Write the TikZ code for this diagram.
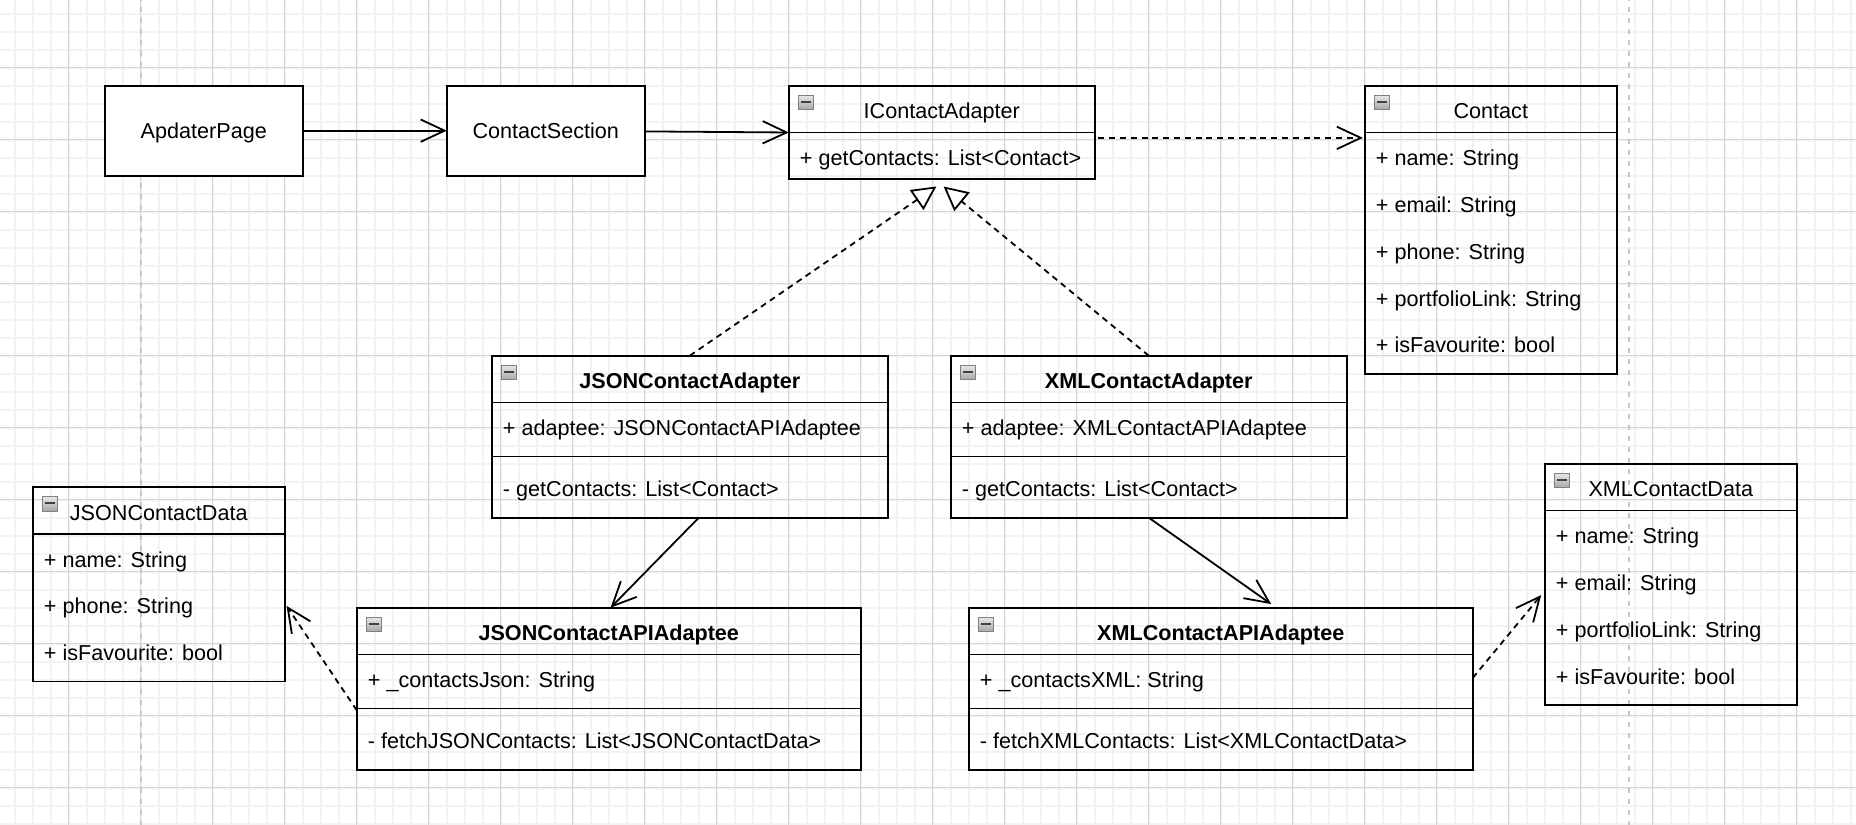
\documentclass[tikz,border=0pt]{standalone}
\usepackage{fontspec}
\setmainfont{Liberation Sans}
\usetikzlibrary{calc,positioning,arrows.meta}
\definecolor{gridminor}{HTML}{F2F2F2}
\definecolor{gridmajor}{HTML}{D5D5D5}
\definecolor{pagebreak}{HTML}{C6C6C6}
\tikzset{%
  box/.style={rectangle,draw,line width=0.9pt,inner sep=0pt,outer sep=0pt},
  plainbox/.style={box,fill=white,minimum width=99pt,minimum height=45pt,
    text height=8pt,text depth=0pt},
  title/.style={inner sep=0pt,text height=8pt,text depth=0pt},
  member/.style={title,anchor=west},
  assoc/.style={line width=0.9pt,-{Straight Barb[length=12pt,width=11.2pt]}},
  dep/.style={assoc,dash pattern=on 3pt off 2.4pt},
  realize/.style={line width=0.9pt,dash pattern=on 3pt off 2.4pt,
    -{Triangle[length=12pt,width=12pt,fill=white]}}
}
% little collapse box in the corner of a class
\newcommand{\umlicon}[1]{%
  \shadedraw[top color=black!10,bottom color=black!35,draw=black!50,line width=0.5pt]
    ($(#1.north west)+(5.5,5.5)$) rectangle ($(#1.north west)+(13.5,13.5)$);
  \draw[black!75,line width=1.1pt] ($(#1.north west)+(6.8,9)$) -- ($(#1.north west)+(12.2,9)$);
}
\newcommand{\umlsep}[2]{%
  \draw[line width=0.9pt] ($(#1.north west)+(0,#2)$) -- ($(#1.north east)+(0,#2)$);
}

\begin{document}
\begin{tikzpicture}[x=0.9pt,y=-0.9pt,font=\fontsize{10.8}{13}\selectfont]
  \useasboundingbox (-38.2,-37.6) rectangle (992.9,420.2);
  % background grid
  \begin{scope}
    \clip (-38.2,-37.6) rectangle (992.9,420.2);
    \draw[gridminor,line width=0.9pt] (-40,430) grid[xstep=9pt,ystep=9pt] (1000,-40);
    \draw[gridmajor,line width=0.5pt] (-40,430) grid[xstep=36pt,ystep=36pt] (1000,-40);
    \draw[pagebreak,line width=1pt,dash pattern=on 2.5pt off 3pt]
      (40,-40) -- (40,430) (867,-40) -- (867,430);
  \end{scope}

  \node [plainbox] (ap) at (75,35) {ApdaterPage};
  \node [plainbox] (cs) [right=72pt of ap] {ContactSection};
  \node [box,minimum width=153pt,minimum height=46.8pt] (ica)
    [right=72pt of cs.north east,anchor=north west] {};
  \node [box,minimum width=126pt,minimum height=144pt] (contact)
    [right=135pt of ica.north east,anchor=north west] {};
  \node [box,minimum width=198pt,minimum height=81pt] (jca) [below=88.2pt of ica.south,xshift=-126pt] {};
  \node [box,minimum width=198pt,minimum height=81pt] (xca) [right=31.5pt of jca] {};
  \node [box,minimum width=252pt,minimum height=81pt] (jcaa) [below=45pt of jca.south,xshift=-40.5pt] {};
  \node [box,minimum width=252pt,minimum height=81pt] (xcaa) [below=45pt of xca.south,xshift=36pt] {};
  \node [box,minimum width=126pt,minimum height=97.2pt] (jcd) [left=36pt of jcaa,yshift=52.2pt] {};
  \node [box,minimum width=126pt,minimum height=120.6pt] (xcd) [right=36pt of xcaa,yshift=52.2pt] {};

  % IContactAdapter
  \umlicon{ica}
  \node [title] at ($(ica.north)+(0,14)$) {IContactAdapter};
  \umlsep{ica}{26}
  \node [member] at ($(ica.north west)+(6,40)$) {+ getContacts: List<Contact>};

  % Contact
  \umlicon{contact}
  \node [title] at ($(contact.north)+(0,14)$) {Contact};
  \umlsep{contact}{26}
  \node [member] at ($(contact.north west)+(6,40)$) {+ name: String};
  \node [member] at ($(contact.north west)+(6,66)$) {+ email: String};
  \node [member] at ($(contact.north west)+(6,92)$) {+ phone: String};
  \node [member] at ($(contact.north west)+(6,118)$) {+ portfolioLink: String};
  \node [member] at ($(contact.north west)+(6,144)$) {+ isFavourite: bool};

  % adapters
  \umlicon{jca}
  \node [title] at ($(jca.north)+(0,14)$) {\textbf{JSONContactAdapter}};
  \umlsep{jca}{26}
  \node [member] at ($(jca.north west)+(6,40)$) {+ adaptee: JSONContactAPIAdaptee};
  \umlsep{jca}{56}
  \node [member] at ($(jca.north west)+(6,74)$) {- getContacts: List<Contact>};

  \umlicon{xca}
  \node [title] at ($(xca.north)+(0,14)$) {\textbf{XMLContactAdapter}};
  \umlsep{xca}{26}
  \node [member] at ($(xca.north west)+(6,40)$) {+ adaptee: XMLContactAPIAdaptee};
  \umlsep{xca}{56}
  \node [member] at ($(xca.north west)+(6,74)$) {- getContacts: List<Contact>};

  % adaptees
  \umlicon{jcaa}
  \node [title] at ($(jcaa.north)+(0,14)$) {\textbf{JSONContactAPIAdaptee}};
  \umlsep{jcaa}{26}
  \node [member] at ($(jcaa.north west)+(6,40)$) {+ \_contactsJson: String};
  \umlsep{jcaa}{56}
  \node [member] at ($(jcaa.north west)+(6,74)$) {- fetchJSONContacts: List<JSONContactData>};

  \umlicon{xcaa}
  \node [title] at ($(xcaa.north)+(0,14)$) {\textbf{XMLContactAPIAdaptee}};
  \umlsep{xcaa}{26}
  \node [member] at ($(xcaa.north west)+(6,40)$) {+ \_contactsXML: String};
  \umlsep{xcaa}{56}
  \node [member] at ($(xcaa.north west)+(6,74)$) {- fetchXMLContacts: List<XMLContactData>};

  % data classes
  \umlicon{jcd}
  \node [title] at ($(jcd.north)+(0,14)$) {JSONContactData};
  \umlsep{jcd}{26}
  \node [member] at ($(jcd.north west)+(6,40)$) {+ name: String};
  \node [member] at ($(jcd.north west)+(6,66)$) {+ phone: String};
  \node [member] at ($(jcd.north west)+(6,92)$) {+ isFavourite: bool};

  \umlicon{xcd}
  \node [title] at ($(xcd.north)+(0,14)$) {XMLContactData};
  \umlsep{xcd}{26}
  \node [member] at ($(xcd.north west)+(6,40)$) {+ name: String};
  \node [member] at ($(xcd.north west)+(6,66)$) {+ email: String};
  \node [member] at ($(xcd.north west)+(6,92)$) {+ portfolioLink: String};
  \node [member] at ($(xcd.north west)+(6,118)$) {+ isFavourite: bool};

  % connectors
  \draw [assoc] (ap) -- (cs);
  \draw [assoc] (cs) -- (ica.west);
  \draw [dep] ($(ica.north east)+(2,29)$) -- ($(contact.north west)+(-1,29)$);
  \draw [realize] (jca.north) -- ($(ica.south)+(-3,4)$);
  \draw [realize] (xca.north) -- ($(ica.south)+(1,4)$);
  \draw [assoc] ($(jca.south)+(5,0)$) -- ($(jcaa.north)+(1,0)$);
  \draw [assoc] (xca.south) -- ($(xcaa.north)+(28,-2)$);
  \draw [dep] ($(jcaa.north west)+(0,57)$) -- ($(jcd.north east)+(1,66)$);
  \draw [dep] ($(xcaa.north east)+(0,39)$) -- ($(xcd.north west)+(-2,73)$);
\end{tikzpicture}
\end{document}
